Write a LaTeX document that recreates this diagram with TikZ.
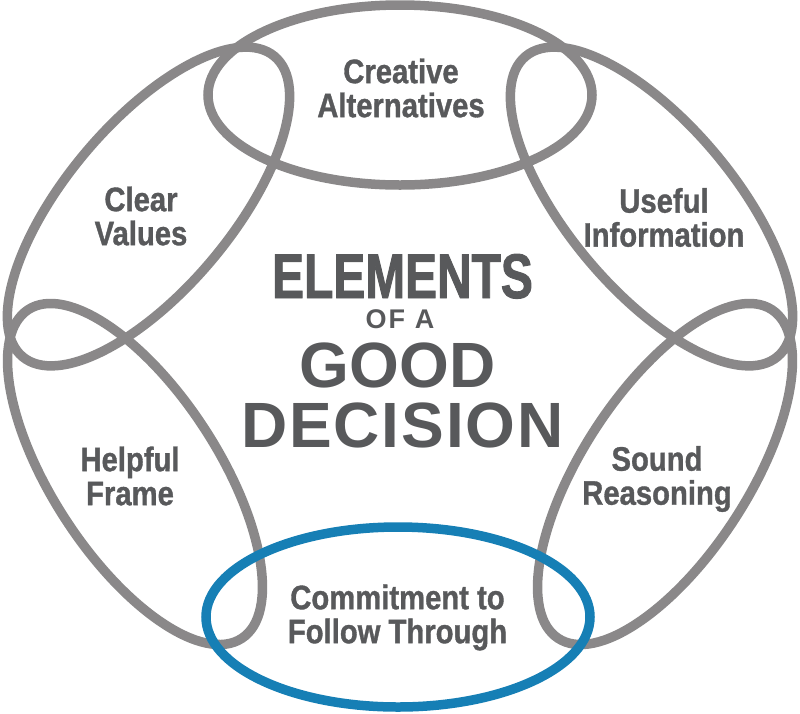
\documentclass[tikz,border=0pt]{standalone}
\usepackage{fontspec}
\setmainfont{Liberation Sans}
\newfontfamily\labelfont[FakeStretch=0.86,FakeBold=1]{Liberation Sans}
\newfontfamily\narrowfont[FakeStretch=0.76,FakeBold=1.5]{Liberation Sans}
\usetikzlibrary{shapes.geometric}

\definecolor{ringgray}{RGB}{138,136,137}
\definecolor{textgray}{RGB}{88,89,91}
\definecolor{ringblue}{RGB}{22,127,181}

\begin{document}
\begin{tikzpicture}[
    x=1pt, y=-1pt,
    ring/.style={ellipse, draw=ringgray, line width=9.5pt, inner sep=0pt,
                 minimum width=392pt, minimum height=166pt},
    flatring/.style={ring, minimum width=384pt, minimum height=180pt},
    elem/.style={text=textgray, align=center,
                 font=\labelfont\bfseries\fontsize{34}{34}\selectfont},
    headline/.style={text=textgray, anchor=base, inner sep=0pt}
]
    \useasboundingbox (0,0) rectangle (800,713);

    % Rings
    \node (values)   [ring, rotate=50]   at (148.5,206.5) {};
    \node (frame)    [ring, rotate=-57]  at (135,474) {};
    \node (info)     [ring, rotate=-50]  at (651.5,206.5) {};
    \node (reason)   [ring, rotate=57]   at (665,474) {};
    \node (creative) [flatring]          at (400,95) {};
    \node (commit)   [flatring, draw=ringblue] at (398,617) {};

    % Elements
    \node (creativetext) [elem] at (401,88)    {Creative\\Alternatives};
    \node (valuestext)   [elem] at (141,216)   {Clear\\Values};
    \node (infotext)     [elem] at (664,217.5) {Useful\\Information};
    \node (frametext)    [elem] at (130,476)   {Helpful\\Frame};
    \node (reasontext)   [elem] at (657,479)   {Sound\\Reasoning};
    \node (committext)   [elem] at (397.5,617.5) {Commitment to\\Follow Through};

    % Title
    \node (elements) [headline, font=\narrowfont\bfseries\fontsize{63}{63}\selectfont]
        at (402.5,298) {ELEMENTS};
    \node (ofa) [headline, font=\bfseries\fontsize{27}{27}\selectfont\addfontfeatures{LetterSpace=8}]
        at (400,328) {OF A};
    \node (good) [headline, font=\bfseries\fontsize{64}{64}\selectfont]
        at (397.5,387) {GOOD};
    \node (decision) [headline, font=\bfseries\fontsize{64}{64}\selectfont\addfontfeatures{LetterSpace=3}]
        at (402.5,447) {DECISION};
\end{tikzpicture}
\end{document}
